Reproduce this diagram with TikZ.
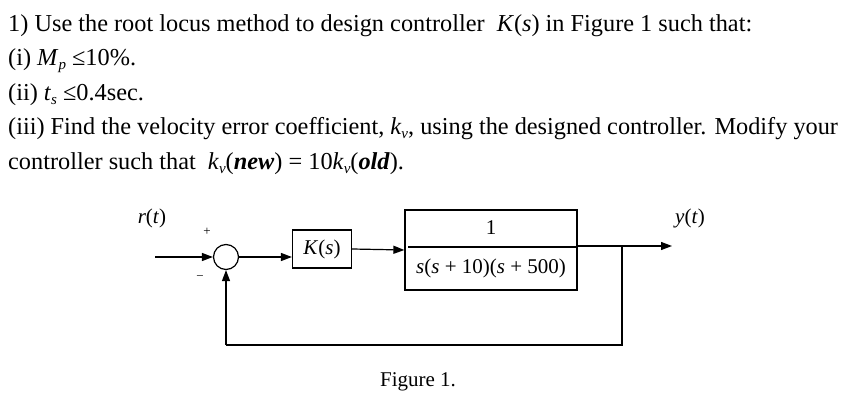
\documentclass[tikz,border=0pt]{standalone}
\usepackage{fontspec}
\setmainfont{Liberation Serif}
\usetikzlibrary{arrows.meta}
\newcommand{\iv}[1]{\textit{#1}}
\begin{document}
\begin{tikzpicture}[x=1pt,y=-1pt,
  txt/.style={anchor=west,inner sep=0,font=\fontsize{24.3}{27}\selectfont},
  blk/.style={draw,line width=1.2pt,inner sep=0},
  lab/.style={inner sep=0,font=\fontsize{21}{24}\selectfont},
  sig/.style={line width=1.2pt,-{Triangle[length=11pt,width=8pt]}},
  ln/.style={line width=1.2pt}]
\useasboundingbox (0,0) rectangle (856,406);
\node[txt] (t1) at (8,26) {1) Use the root locus method to design controller \ \iv{K}(\iv{s}) in Figure 1 such that:};
\node[txt] (t2) at (8,61) {(i) \iv{M}\raisebox{-4pt}{\fontsize{15}{16}\selectfont\iv{p}} ≤10\%.};
\node[txt] (t3) at (8,95) {(ii) \iv{t}\raisebox{-4pt}{\fontsize{15}{16}\selectfont\iv{s}} ≤0.4sec.};
\node[txt] (t4) at (8,129) {(iii) Find the velocity error coefficient, \iv{k}\raisebox{-4pt}{\fontsize{15}{16}\selectfont\iv{v}}, using the designed controller. Modify your};
\node[txt] (t5) at (8,164) {controller such that \ \iv{k}\raisebox{-4pt}{\fontsize{15}{16}\selectfont\iv{v}}(\textbf{\iv{new}}) = 10\iv{k}\raisebox{-4pt}{\fontsize{15}{16}\selectfont\iv{v}}(\textbf{\iv{old}}).};
\node[circle,draw,line width=1.2pt,minimum size=25pt,inner sep=0] (sum) at (226,257) {};
\coordinate (in) at (155,257);
\node[blk,minimum width=59pt,minimum height=38pt] (K) at (322,249) {\fontsize{21}{24}\selectfont\iv{K}(\iv{s})};
\node[blk,minimum width=172pt,minimum height=80pt] (G) at (491,250) {};
\draw[ln] (G.west|-0,247) ++(4,0) coordinate (fl) -- (G.east|-fl) ++(-4,0);
\node[lab] (num) at (491,228) {1};
\node[lab] (den) at (491,268) {\iv{s}(\iv{s} + 10)(\iv{s} + 500)};
\coordinate (br) at (622,246);
\coordinate (out) at (672,246);
\coordinate (bl) at (622,345);
\coordinate (bb) at (226,345);
\draw[sig] (in) -- (sum.west);
\draw[sig] (sum.east) -- (K.west|-sum.east);
\draw[sig] (K.east) -- (G.west);
\draw[ln] (G.east|-br) -- (br);
\draw[sig] (br) -- (out);
\draw[ln] (br) -- (bl) -- (bb);
\draw[sig] (bb) -- (sum.south);
\node[lab] (r) at (152,218) {\iv{r}(\iv{t})};
\node[lab] (y) at (690,218) {\iv{y}(\iv{t})};
\node[inner sep=0,font=\fontsize{13}{14}\selectfont] (p) at (207,232) {+};
\node[inner sep=0,font=\fontsize{13}{14}\selectfont] (m) at (200,278) {−};
\node[lab] (fig) at (418,382) {Figure 1.};
\end{tikzpicture}
\end{document}
